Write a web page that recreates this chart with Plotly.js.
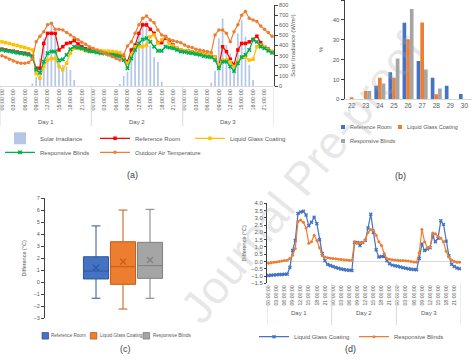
<!DOCTYPE html>
<html>
<head>
<meta charset="utf-8">
<script src="https://cdn.plot.ly/plotly-3.0.1.min.js"></script>
<style>
html,body{margin:0;padding:0;background:#ffffff;}
#chart{width:474px;height:362px;}
</style>
</head>
<body>
<div id="chart"></div>
<script>
// ---------------- DATA ----------------
const days = ['Day 1', 'Day 2', 'Day 3'];
const hourLabels = ['00:00:00','01:00:00','02:00:00','03:00:00','04:00:00','05:00:00','06:00:00','07:00:00',
  '08:00:00','09:00:00','10:00:00','11:00:00','12:00:00','13:00:00','14:00:00','15:00:00',
  '16:00:00','17:00:00','18:00:00','19:00:00','20:00:00','21:00:00','22:00:00','23:00:00'];
const tickHours = ['00:00:00','03:00:00','06:00:00','09:00:00','12:00:00','15:00:00','18:00:00','21:00:00'];

// (a) solar irradiance (W/m2) and temperatures (degC), hourly over 3 days
const solarIrradiance = [
  0,0,0,0,0,0,0,0, 26,92,273,471,520,619,487,257, 207,191,158,59,0,0,0,0,
  0,0,0,0,0,0,0,20, 99,141,273,388,520,635,645,400, 285,238,42,0,0,0,0,0,
  0,0,0,0,0,0,0,33, 151,470,668,405,322,191,520,651, 487,207,59,0,0,0,0,0];
const referenceRoom = [
  24.1,23.9,23.7,23.6,23.4,23.2,23.1,22.9, 22.4,19.4,19.4,25.5,28.0,28.0,28.0,23.9, 24.7,25.5,25.7,26.2,25.4,24.7,24.2,23.9,
  23.7,23.6,23.4,23.2,23.1,22.9,22.7,22.6, 22.1,21.0,23.9,25.1,28.0,30.1,30.1,29.0, 28.0,25.7,25.7,26.8,25.9,25.1,24.3,23.9,
  23.7,23.6,23.4,23.2,23.1,22.9,22.7,22.4, 22.1,19.8,24.7,23.5,21.6,20.2,23.9,25.5, 25.5,25.9,26.5,27.3,25.7,24.7,24.1,23.5];
const liquidGlass = [
  25.9,25.7,25.5,25.2,25.0,24.7,24.5,24.2, 23.9,18.1,16.9,19.8,21.4,21.8,21.8,19.8, 19.0,20.6,23.1,24.3,24.3,24.1,23.7,23.5,
  23.9,23.8,23.7,23.6,23.6,23.5,23.4,23.2, 21.8,20.6,22.7,24.7,24.7,24.7,25.1,27.2, 27.6,25.5,26.4,27.2,25.5,24.9,24.3,23.9,
  23.7,23.6,23.4,23.2,23.1,22.9,22.7,22.6, 22.1,20.2,21.4,21.4,21.0,19.8,21.0,22.2, 22.1,21.4,21.6,24.7,25.1,24.7,23.9,23.5];
const responsiveBlinds = [
  23.9,23.7,23.6,23.4,23.2,23.1,22.9,22.7, 22.2,19.0,18.3,21.0,23.1,23.5,23.5,21.3, 21.6,22.7,24.1,24.7,24.5,24.3,23.9,23.6,
  23.5,23.3,23.1,23.0,22.8,22.7,22.5,22.3, 21.4,19.4,21.8,23.9,25.5,26.5,26.8,25.9, 24.7,23.7,23.7,24.7,24.5,24.3,23.9,23.5,
  23.4,23.2,23.1,22.9,22.7,22.4,22.2,22.1, 21.4,19.4,21.0,21.0,19.8,18.7,20.6,22.1, 22.7,23.9,26.4,25.9,24.7,24.3,23.7,23.2];
const outdoorAir = [
  22.5,22.1,21.6,21.2,20.8,20.6,20.6,20.8, 21.6,25.9,27.3,28.4,30.1,30.5,29.0,29.0, 28.8,28.2,27.6,26.9,26.4,25.8,25.3,24.7,
  24.3,23.9,23.5,23.1,22.7,22.2,21.8,21.4, 22.7,24.9,25.9,28.0,30.1,31.7,32.3,31.3, 30.6,28.8,27.6,27.3,26.5,26.2,25.9,25.7,
  25.1,24.7,24.5,24.1,23.9,23.7,23.5,23.3, 27.6,28.8,28.8,28.0,25.9,28.4,30.1,32.5, 33.4,31.7,31.3,30.9,29.8,29.0,28.2,27.3];

// (b) temperature distribution (%)
const tempBins = ['22','23','24','25','26','27','28','29','30'];
const refPct = [0, 0, 6.8, 13.6, 38.5, 19.3, 10.8, 6.8, 2.7];
const lgcPct = [1.0, 4.2, 10.8, 10.8, 30.2, 38.7, 2.5, 0, 0];
const rbPct  = [0, 4.2, 8.0, 20.5, 45.5, 15.0, 5.5, 0, 0];

// (c) box statistics of difference (degC)
const boxNames = ['Reference Room', 'Liquid Glass Coating', 'Responsive Blinds'];
const boxLower = [-1.33, -2.23, -1.33];
const boxQ1 = [0.28, -0.17, 0.33];
const boxMedian = [0.94, 1.30, 1.39];
const boxQ3 = [2.13, 3.38, 3.33];
const boxUpper = [4.70, 6.02, 6.08];
const boxMean = [1.22, 1.72, 1.86];

// (d) hourly difference vs reference (degC)
const lgcDiff = [
  -0.97,-0.95,-0.93,-0.92,-0.90,-0.89,-0.88,-0.87, -0.40,0.75,1.45,3.30,3.40,3.45,3.20,2.45, 2.70,3.05,2.60,1.50,0.55,0.05,-0.20,-0.28,
  -0.35,-0.42,-0.47,-0.52,-0.55,-0.58,-0.60,-0.62, 1.30,1.30,1.10,1.30,1.45,2.30,3.25,2.00, 0.80,0.30,0.35,0.35,0.05,-0.15,-0.25,-0.30,
  -0.33,-0.38,-0.43,-0.47,-0.50,-0.53,-0.55,-0.57, 0.20,1.20,0.75,0.85,0.95,1.75,1.35,1.60, 2.80,2.55,1.40,0.40,-0.20,-0.35,-0.45,-0.50];
const rbDiff = [
  -0.12,-0.09,-0.06,-0.03,0.00,0.03,0.06,0.08, 0.20,0.43,0.90,2.75,2.85,2.70,2.30,1.25, 1.35,1.80,1.45,0.95,0.40,0.30,0.25,0.22,
  0.20,0.18,0.16,0.14,0.12,0.10,0.08,0.07, 1.35,1.25,1.30,1.30,1.50,2.00,2.20,2.15, 1.80,1.35,1.10,0.55,0.20,0.15,0.12,0.10,
  0.08,0.07,0.06,0.05,0.03,0.00,-0.03,-0.05, 0.60,2.20,1.35,0.95,1.00,1.95,1.90,1.70, 1.60,1.35,0.70,0.30,0.10,0.00,-0.05,-0.05];

// ---------------- HELPERS ----------------
const W = 474, H = 362;
const px = v => v / W;
const py = v => 1 - v / H;
const categories = days.flatMap(d => hourLabels.map(h => d + ' ' + h));
const tickVals = days.flatMap(d => tickHours.map(h => d + ' ' + h));
const tickText = days.flatMap(() => tickHours);

const C = {blue:'#4472C4', orange:'#ED7D31', gray:'#A5A5A5', red:'#FF0000', yellow:'#FFC000', green:'#00B050', solar:'#B4C7E7', text:'#595959', axis:'#404040', light:'#D9D9D9'};
const boxFill = [C.blue, C.orange, C.gray];
const boxLine = ['#2F5597', '#C55A11', '#7F7F7F'];

// ---------------- TRACES ----------------
const traces = [
  // (a)
  {type:'bar', x:categories, y:solarIrradiance, name:'Solar Irradiance', marker:{color:C.solar}, width:0.45, xaxis:'x', yaxis:'y', legend:'legend'},
  {type:'scatter', mode:'lines+markers', x:categories, y:referenceRoom, name:'Reference Room', line:{color:C.red, width:1.2}, marker:{symbol:'square', size:3.5, color:C.red}, xaxis:'x', yaxis:'y2', legend:'legend'},
  {type:'scatter', mode:'lines+markers', x:categories, y:liquidGlass, name:'Liquid Glass Coating', line:{color:C.yellow, width:1.2}, marker:{symbol:'square', size:3.5, color:C.yellow}, xaxis:'x', yaxis:'y2', legend:'legend', legendwidth:80},
  {type:'scatter', mode:'lines+markers', x:categories, y:responsiveBlinds, name:'Responsive Blinds', line:{color:C.green, width:1.2}, marker:{symbol:'x', size:4, color:C.green}, xaxis:'x', yaxis:'y2', legend:'legend2'},
  {type:'scatter', mode:'lines+markers', x:categories, y:outdoorAir, name:'Outdoor Air Temperature', line:{color:C.orange, width:1.2}, marker:{symbol:'circle', size:3.5, color:C.orange}, xaxis:'x', yaxis:'y2', legend:'legend2', legendwidth:90},
  // (b)
  {type:'bar', x:tempBins, y:refPct, name:'Reference Room', marker:{color:C.blue}, xaxis:'x2', yaxis:'y3', showlegend:false},
  {type:'bar', x:tempBins, y:lgcPct, name:'Liquid Glass Coating', marker:{color:C.orange}, xaxis:'x2', yaxis:'y3', showlegend:false},
  {type:'bar', x:tempBins, y:rbPct, name:'Responsive Blinds', marker:{color:C.gray}, xaxis:'x2', yaxis:'y3', showlegend:false}
];
// (c) boxes
boxNames.forEach((n, i) => {
  traces.push({type:'box', name:n, x:[n], q1:[boxQ1[i]], median:[boxMedian[i]], q3:[boxQ3[i]],
    lowerfence:[boxLower[i]], upperfence:[boxUpper[i]], width:0.93, whiskerwidth:0.35,
    fillcolor:boxFill[i], line:{color:boxLine[i], width:1}, xaxis:'x3', yaxis:'y4', showlegend:false, hoverinfo:'skip'});
});
traces.push({type:'scatter', mode:'markers', x:boxNames, y:boxMean, name:'Mean',
  marker:{symbol:'x-thin', size:6, line:{width:1.2, color:boxLine}}, xaxis:'x3', yaxis:'y4', showlegend:false});
// (d)
traces.push({type:'scatter', mode:'lines+markers', x:categories, y:lgcDiff, name:'Liquid Glass Coating', line:{color:C.blue, width:1.2}, marker:{symbol:'x', size:3.5, color:C.blue}, xaxis:'x4', yaxis:'y5', legend:'legend3'});
traces.push({type:'scatter', mode:'lines+markers', x:categories, y:rbDiff, name:'Responsive Blinds', line:{color:C.orange, width:1.2}, marker:{symbol:'circle', size:3, color:C.orange}, xaxis:'x4', yaxis:'y5', legend:'legend3', legendwidth:70});

// ---------------- LAYOUT ----------------
const tickF = s => ({size:s, color:C.text});
const shapes = [];
const annotations = [];

// day dividers and day labels for (a) and (d)
[['x', 86, 126, 121.7], ['x4', 283.3, 325, 318.3]].forEach(([xr, y0, y1, yl]) => {
  [-0.5, 23.5, 47.5, 71.5].forEach(v => shapes.push({type:'line', xref:xr, yref:'paper', x0:v, x1:v, y0:py(y0), y1:py(y1), line:{color:C.light, width:1}}));
  days.forEach((d, i) => annotations.push({xref:xr, yref:'paper', x:11.5 + 24 * i, y:py(yl), text:d, showarrow:false, font:{size:6, color:C.text}}));
});

// custom legends for (b) and (c)
function legendItem(sx, sy, size, fill, stroke, label, tx, fs) {
  shapes.push({type:'rect', xref:'paper', yref:'paper', x0:px(sx - size/2), x1:px(sx + size/2), y0:py(sy + size/2), y1:py(sy - size/2), fillcolor:fill, line:{color:stroke, width:stroke ? 0.8 : 0}});
  annotations.push({xref:'paper', yref:'paper', x:px(tx), y:py(sy), xanchor:'left', yanchor:'middle', text:label, showarrow:false, font:{size:fs, color:C.text}});
}
legendItem(343, 127, 4, C.blue, null, 'Reference Room', 348, 5.5);
legendItem(400, 127, 4, C.orange, null, 'Liquid Glass Coating', 405, 5.5);
legendItem(343, 141, 4, C.gray, null, 'Responsive Blinds', 348, 5.5);
legendItem(45.3, 335.8, 6.5, C.blue, boxLine[0], boxNames[0], 49, 4.6);
legendItem(93.6, 335.8, 6.5, C.orange, boxLine[1], boxNames[1], 97.5, 4.6);
legendItem(146.3, 335.8, 6.5, C.gray, boxLine[2], boxNames[2], 150.5, 4.6);

// captions
[['(a)',125,175],['(b)',408,176],['(c)',118,356],['(d)',358,356]].forEach(([t,x,y]) =>
  annotations.push({xref:'paper', yref:'paper', x:px(x), y:py(y), text:t, showarrow:false, font:{size:9, color:'#404040'}}));

// watermark
annotations.push({xref:'paper', yref:'paper', x:px(302), y:py(178), text:'Journal Pre-proof', showarrow:false, textangle:-51,
  font:{size:46, color:'rgba(170,170,170,0.28)'}});

const legendBase = {orientation:'h', xanchor:'left', yanchor:'middle', font:{size:6, color:C.text}, bgcolor:'rgba(0,0,0,0)', itemwidth:30, entrywidthmode:'pixels', traceorder:'normal'};

const layout = {
  width:W, height:H, margin:{l:0, r:0, t:0, b:0, autoexpand:false},
  paper_bgcolor:'#ffffff', plot_bgcolor:'rgba(0,0,0,0)',
  font:{family:'Liberation Sans, Arial, sans-serif', size:6, color:C.text},
  barmode:'group', bargap:0.22, bargroupgap:0, boxmode:'overlay',
  showlegend:true,
  xaxis:{domain:[0, px(274)], type:'category', range:[-0.5, 71.5], tickmode:'array', tickvals:tickVals, ticktext:tickText, tickangle:-90,
    tickfont:tickF(5.5), showline:true, linecolor:C.light, linewidth:1, ticks:'', showgrid:false, zeroline:false, anchor:'y', fixedrange:true},
  yaxis:{domain:[py(86), py(5)], range:[0, 800], dtick:100, side:'right', anchor:'x', showline:true, linecolor:C.axis, linewidth:1,
    ticks:'outside', ticklen:3, tickcolor:C.axis, tickfont:tickF(5.5), showgrid:false, zeroline:false,
    title:{text:'Solar Irradiance (W/m²)', font:{size:6, color:C.text}, standoff:3}},
  yaxis2:{overlaying:'y', anchor:'x', range:[15, 35], visible:false, showgrid:false, zeroline:false},
  xaxis2:{domain:[px(344.6), px(471.5)], type:'category', anchor:'y3', showline:true, linecolor:C.light, linewidth:1, ticks:'', tickfont:tickF(6.5), showgrid:false},
  yaxis3:{domain:[py(99.3), 1], range:[0, 50], dtick:10, anchor:'x2', showline:true, linecolor:C.axis, linewidth:1, ticks:'outside', ticklen:3, tickcolor:C.axis,
    tickfont:tickF(6), showgrid:false, zeroline:false, title:{text:'%', font:{size:6, color:C.text}, standoff:8}},
  xaxis3:{domain:[px(45), px(201)], type:'category', anchor:'y4', range:[-1.889, 3.889], visible:false},
  yaxis4:{domain:[py(318.3), py(198.3)], range:[-3, 7], dtick:1, anchor:'x3', showline:true, linecolor:C.axis, linewidth:1, ticks:'outside', ticklen:3, tickcolor:C.axis,
    tickfont:tickF(5.5), showgrid:false, zeroline:false, title:{text:'Difference (°C)', font:{size:5.5, color:C.text}, standoff:6}},
  xaxis4:{domain:[px(267), px(461)], type:'category', range:[-0.5, 71.5], tickmode:'array', tickvals:tickVals, ticktext:tickText, tickangle:-90,
    tickfont:tickF(5.2), showline:false, ticks:'', showgrid:false, zeroline:false, anchor:'y5'},
  yaxis5:{domain:[py(283.3), py(203.3)], range:[-1.5, 4.0], dtick:0.5, tickformat:'.1f', anchor:'x4', showline:true, linecolor:C.axis, linewidth:1,
    ticks:'outside', ticklen:2, tickcolor:C.axis, tickfont:tickF(6), showgrid:false, zeroline:true, zerolinecolor:C.light, zerolinewidth:1,
    title:{text:'Difference (°C)', font:{size:5.5, color:C.text}, standoff:4}},
  legend:Object.assign({}, legendBase, {x:0, y:py(138.3), entrywidth:50}),
  legend2:Object.assign({}, legendBase, {x:0, y:py(152.3), entrywidth:50}),
  legend3:Object.assign({}, legendBase, {x:px(254), y:py(336.7), entrywidth:55}),
  shapes:shapes,
  annotations:annotations
};

Plotly.newPlot('chart', traces, layout, {staticPlot:true, displayModeBar:false});
</script>
</body>
</html>
